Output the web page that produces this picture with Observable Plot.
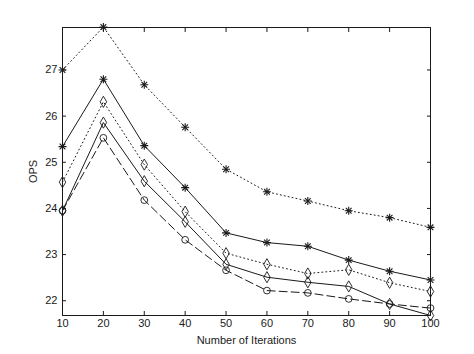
<!DOCTYPE html>
<html>
<head>
<meta charset="utf-8">
<script src="https://cdn.jsdelivr.net/npm/d3@7"></script>
<script src="https://cdn.jsdelivr.net/npm/@observablehq/plot@0.6"></script>
<style>
  html, body { margin: 0; padding: 0; background: #fff; }
  #chart svg { display: block; }
</style>
</head>
<body>
<div id="chart"></div>
<script>
const iterations = [10, 20, 30, 40, 50, 60, 70, 80, 90, 100];
const seriesA = [27.00, 27.93, 26.68, 25.76, 24.85, 24.36, 24.16, 23.95, 23.80, 23.59]; // dotted, asterisk
const seriesB = [25.34, 26.80, 25.36, 24.45, 23.47, 23.26, 23.18, 22.88, 22.64, 22.45]; // solid, asterisk
const seriesC = [24.57, 26.31, 24.95, 23.93, 23.03, 22.79, 22.59, 22.67, 22.39, 22.20]; // dotted, diamond
const seriesD = [23.95, 25.86, 24.59, 23.71, 22.79, 22.51, 22.40, 22.31, 21.93, 21.68]; // solid, diamond
const seriesE = [23.95, 25.53, 24.18, 23.32, 22.66, 22.22, 22.17, 22.04, 21.93, 21.84]; // dashed, circle
const xTicks = [10, 20, 30, 40, 50, 60, 70, 80, 90, 100];
const yTicks = [22, 23, 24, 25, 26, 27];

const series = [
  {name: "A", values: seriesA, dash: "1,3", symbol: "asterisk"},
  {name: "B", values: seriesB, dash: null, symbol: "asterisk"},
  {name: "C", values: seriesC, dash: "1,3", symbol: "diamond"},
  {name: "D", values: seriesD, dash: null, symbol: "diamond"},
  {name: "E", values: seriesE, dash: "8,4", symbol: "circle"}
];
const rows = series.flatMap(s => iterations.map((x, i) => ({series: s.name, x, y: s.values[i], symbol: s.symbol})));

const ink = "#1a1a1a";
const marks = [];
for (const s of series) {
  marks.push(Plot.line(rows.filter(d => d.series === s.name), {
    x: "x", y: "y", stroke: ink, strokeWidth: 1,
    strokeDasharray: s.dash || undefined
  }));
}
const star = rows.filter(d => d.symbol === "asterisk");
marks.push(Plot.dot(star, {x: "x", y: "y", symbol: "plus", r: 2.7, stroke: ink, strokeWidth: 1.1}));
marks.push(Plot.dot(star, {x: "x", y: "y", symbol: "times", r: 2.7, stroke: ink, strokeWidth: 1.1}));
marks.push(Plot.dot(rows.filter(d => d.symbol === "diamond"), {x: "x", y: "y", symbol: "diamond", r: 3.4, stroke: ink, fill: "none", strokeWidth: 0.9}));
marks.push(Plot.dot(rows.filter(d => d.symbol === "circle"), {x: "x", y: "y", symbol: "circle", r: 3.4, stroke: ink, fill: "none", strokeWidth: 0.9}));

marks.push(
  Plot.frame({stroke: ink, strokeWidth: 1}),
  Plot.axisX({ticks: xTicks, tickFormat: d => String(d), tickSize: 0, tickPadding: 4, label: "Number of Iterations", labelAnchor: "center", labelOffset: 28, labelArrow: "none", fill: ink}),
  Plot.axisX({ticks: xTicks, tickSize: -4, tickFormat: () => "", label: null, stroke: ink}),
  Plot.axisX({anchor: "top", ticks: xTicks, tickSize: -4, tickFormat: () => "", label: null, stroke: ink}),
  Plot.axisY({ticks: yTicks, tickFormat: d => String(d), tickSize: 0, tickPadding: 5, label: "OPS", labelAnchor: "center", labelOffset: 33, labelArrow: "none", fill: ink}),
  Plot.axisY({ticks: yTicks, tickSize: -4, tickFormat: () => "", label: null, stroke: ink}),
  Plot.axisY({anchor: "right", ticks: yTicks, tickSize: -4, tickFormat: () => "", label: null, stroke: ink})
);

const chart = Plot.plot({
  width: 474,
  height: 354,
  marginLeft: 62,
  marginRight: 44,
  marginTop: 27,
  marginBottom: 39,
  style: {fontFamily: "'Liberation Sans', Arial, sans-serif", fontSize: "11px", color: ink, background: "#fff"},
  x: {domain: [10, 100]},
  y: {domain: [21.68, 27.92]},
  marks
});
document.getElementById("chart").appendChild(chart);
</script>
</body>
</html>
